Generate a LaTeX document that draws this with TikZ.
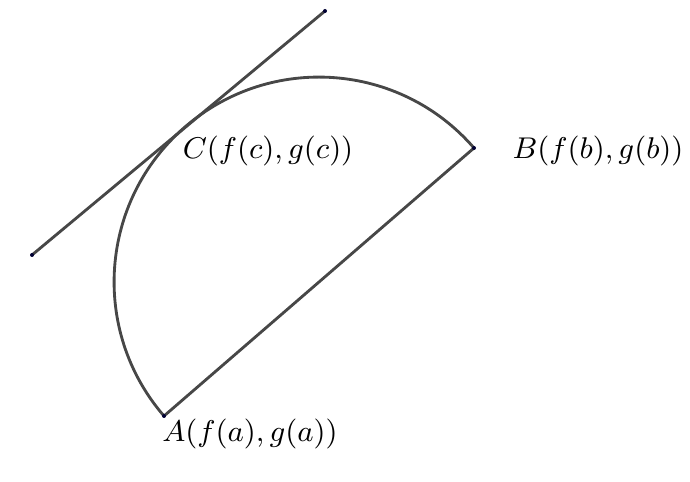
\documentclass[tikz,border=0pt]{standalone}
\begin{document}
\begin{tikzpicture}[x=0.3pt,y=0.3pt,
  curve/.style={draw=black!72,line width=0.85pt},
  dotpt/.style={fill=black!80!blue,inner sep=0pt,minimum size=1.2pt,circle},
  lbl/.style={font=\fontsize{9.5}{11}\selectfont,inner sep=0pt}]
\useasboundingbox (0,0) rectangle (690,482);
\coordinate (A) at (164,66);
\coordinate (B) at (474,334);
\coordinate (O) at (319,200);
\coordinate (T1) at (32,227);
\coordinate (T2) at (325,471);
% semicircle
\draw[curve] (A) arc[start angle=220.85, end angle=40.85, radius=204.9];
\draw[curve] (A) -- (B);
\draw[curve] (T1) -- (T2);
\node[dotpt] (dA) at (A) {};
\node[dotpt] (dB) at (B) {};
\node[dotpt] (d1) at (T1) {};
\node[dotpt] (d2) at (T2) {};
\node[lbl] (LC) at (268,331) {$C(f(c),g(c))$};
\node[lbl] (LB) at (598,331) {$B(f(b),g(b))$};
\node[lbl] (LA) at (250,48) {$A(f(a),g(a))$};
\end{tikzpicture}
\end{document}
